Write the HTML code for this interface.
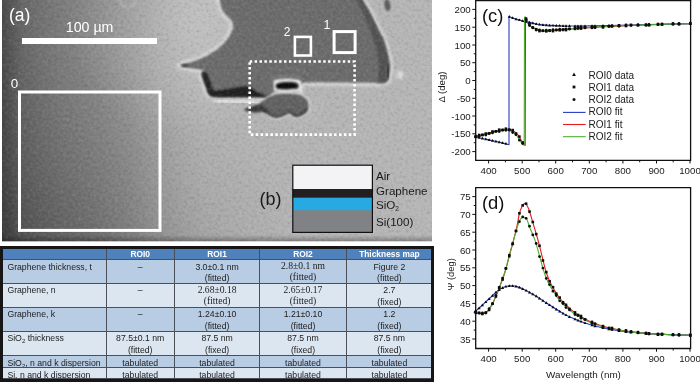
<!DOCTYPE html>
<html><head><meta charset="utf-8"><title>Figure</title>
<style>
html,body{margin:0;padding:0;background:#fff;}
body{width:700px;height:382px;position:relative;overflow:hidden;font-family:"Liberation Sans",sans-serif;}
svg{position:absolute;display:block;}
svg.micro{left:2px;top:0;}
svg.plots{left:430px;top:0;}
.tbl{position:absolute;left:0;top:246px;width:433.6px;height:136px;background:#161616;box-sizing:border-box;padding:3.2px 2.9px 0 2.8px;font-size:8.7px;color:#1c1c1c;line-height:11.6px;}
.tr{display:flex;box-sizing:border-box;border-bottom:0.9px solid #4a4f58;overflow:hidden;}
.tr>div{box-sizing:border-box;border-right:0.9px solid #4a4f58;text-align:center;padding-top:2.1px;overflow:hidden;white-space:nowrap;}
.tr>div:last-child{border-right:none;}
.c0{width:103.8px;text-align:left !important;padding-left:4.6px;}
.c1{width:68.2px;} .c2{width:85.6px;} .c3{width:86.2px;} .c4{width:84.1px;padding-left:1.6px;}
.th{height:10.6px;background:#4f81bd;color:#fff;font-weight:bold;line-height:10px;font-size:8.4px;}
.th>div{padding-top:0;}
.r1>div,.r2>div{padding-top:1.3px;} .r3>div{padding-top:1.1px;} .r4>div,.r5>div{padding-top:1.5px;}
.od{background:#b8cce4;} .ev{background:#dce6f1;}
.tr>div.s{font-family:"Liberation Serif",serif;font-size:9.6px;padding-top:0px;}
sub{font-size:6px;vertical-align:baseline;position:relative;top:1.6px;line-height:0;}
</style></head><body>
<svg class="micro" width="430" height="241.5" viewBox="2 0 430 241.5" preserveAspectRatio="none" font-family="'Liberation Sans', sans-serif">
<defs>
<linearGradient id="bg" gradientUnits="userSpaceOnUse" x1="2" x2="432" y1="0" y2="0">
<stop offset="0" stop-color="#4a4a4a"/><stop offset="0.02" stop-color="#565656"/><stop offset="0.045" stop-color="#666666"/><stop offset="0.09" stop-color="#727272"/><stop offset="0.135" stop-color="#7b7b7b"/><stop offset="0.23" stop-color="#898989"/><stop offset="0.3" stop-color="#959595"/><stop offset="0.36" stop-color="#a3a3a3"/><stop offset="0.42" stop-color="#adadad"/><stop offset="0.47" stop-color="#b2b2b2"/><stop offset="0.7" stop-color="#b4b4b4"/><stop offset="1" stop-color="#b6b6b6"/>
</linearGradient>
<radialGradient id="dk" cx="40" cy="330" r="330" gradientUnits="userSpaceOnUse">
<stop offset="0" stop-color="#000" stop-opacity="0.32"/><stop offset="0.3" stop-color="#000" stop-opacity="0.2"/><stop offset="0.47" stop-color="#000" stop-opacity="0.115"/><stop offset="0.66" stop-color="#000" stop-opacity="0.045"/><stop offset="0.85" stop-color="#000" stop-opacity="0"/>
</radialGradient>
<radialGradient id="lt" cx="185" cy="20" r="120" gradientUnits="userSpaceOnUse">
<stop offset="0" stop-color="#fff" stop-opacity="0.2"/><stop offset="0.5" stop-color="#fff" stop-opacity="0.12"/><stop offset="1" stop-color="#fff" stop-opacity="0"/>
</radialGradient>
<linearGradient id="be" x1="0" x2="0" y1="0" y2="1"><stop offset="0" stop-color="#000" stop-opacity="0"/><stop offset="1" stop-color="#000" stop-opacity="0.3"/></linearGradient>
<filter id="b1" x="-20%" y="-20%" width="140%" height="140%"><feGaussianBlur stdDeviation="0.9"/></filter>
<filter id="b2" x="-20%" y="-20%" width="140%" height="140%"><feGaussianBlur stdDeviation="1.8"/></filter>
<filter id="b3" x="-30%" y="-30%" width="160%" height="160%"><feGaussianBlur stdDeviation="3.5"/></filter>
<filter id="nz" x="0" y="0" width="100%" height="100%" color-interpolation-filters="sRGB"><feTurbulence type="fractalNoise" baseFrequency="0.33" numOctaves="3" seed="7"/><feColorMatrix type="matrix" values="1 0 0 0 0  1 0 0 0 0  1 0 0 0 0  1 0 0 0 0"/><feComponentTransfer><feFuncR type="discrete" tableValues="0 1"/><feFuncG type="discrete" tableValues="0 1"/><feFuncB type="discrete" tableValues="0 1"/><feFuncA type="table" tableValues="0.13 0 0.13"/></feComponentTransfer></filter>
<clipPath id="cp"><rect x="2" y="0" width="430" height="241.5"/></clipPath>
</defs>
<g clip-path="url(#cp)">
<rect x="2" y="0" width="430" height="241.5" fill="url(#bg)"/>
<rect x="2" y="0" width="430" height="241.5" fill="url(#dk)"/>
<rect x="2" y="235" width="430" height="6.5" fill="url(#be)"/>
<rect x="2" y="0" width="330" height="150" fill="url(#lt)"/>
<circle cx="128" cy="-1" r="8" fill="none" stroke="#c4c4c4" stroke-width="2.4" opacity="0.45" filter="url(#b1)"/>
<!-- halo around flake -->
<path d="M220.0 -12.0C197.0 -10.0 219.7 -3.6 220.0 0.0C220.3 3.6 220.8 6.9 222.0 9.6C223.2 12.3 225.4 14.1 227.0 16.0C228.6 17.9 230.7 19.3 231.7 21.0C232.7 22.7 232.9 24.3 233.0 26.0C233.1 27.7 232.9 28.9 232.0 31.0C231.1 33.1 229.5 36.3 227.8 38.6C226.1 40.9 223.9 43.1 222.0 45.0C220.1 46.9 218.5 48.4 216.3 50.0C214.1 51.6 211.6 53.1 209.0 54.5C206.4 55.9 203.6 57.5 200.9 58.6C198.2 59.8 195.6 60.6 193.0 61.4C190.4 62.2 187.6 62.9 185.4 63.6C183.2 64.3 179.5 64.9 179.6 65.6C179.7 66.3 183.8 67.1 186.0 67.6C188.2 68.1 190.7 68.3 193.0 68.6C195.3 68.9 198.2 69.2 200.0 69.6C201.8 70.0 203.8 70.3 204.0 71.0C204.2 71.7 201.2 71.5 201.5 74.0C201.8 76.5 203.8 82.3 205.5 86.0C207.2 89.7 205.8 94.2 211.5 96.0C217.2 97.8 230.9 96.6 240.0 96.8C249.1 97.0 260.7 97.5 266.0 97.0C271.3 96.5 270.2 94.4 272.0 93.5C273.8 92.6 272.7 91.8 277.0 91.5C281.3 91.2 294.2 92.4 298.0 91.5C301.8 90.6 299.2 87.4 300.0 86.0C300.8 84.6 301.3 83.6 303.0 83.0C304.7 82.4 305.5 82.5 310.0 82.4C314.5 82.3 321.7 82.5 330.0 82.6C338.3 82.7 351.7 82.7 360.0 82.8C368.3 82.9 375.8 83.3 380.0 83.2C384.2 83.1 384.1 83.2 385.5 82.4C386.9 81.6 387.7 81.4 388.4 78.6C389.1 75.8 390.0 69.9 389.8 65.5C389.6 61.1 388.3 56.8 387.2 52.4C386.1 48.0 384.6 42.6 383.3 39.3C382.0 36.0 380.6 35.4 379.3 32.8C378.0 30.2 377.1 27.3 375.4 23.6C373.6 19.9 371.0 14.4 368.8 10.5C366.6 6.6 364.1 3.8 362.3 0.0C360.5 -3.8 381.7 -10.0 358.0 -12.0C334.3 -14.0 243.0 -14.0 220.0 -12.0Z" fill="none" stroke="#dedede" stroke-width="6.5" filter="url(#b2)" opacity="0.85"/>
<path d="M264.0 100.0C266.0 98.6 267.7 97.5 270.0 96.5C272.3 95.5 274.7 94.5 278.0 94.0C281.3 93.5 286.3 93.3 290.0 93.5C293.7 93.7 297.3 94.1 300.0 95.0C302.7 95.9 304.6 97.3 306.0 99.0C307.4 100.7 308.4 102.9 308.5 105.0C308.6 107.1 307.9 109.8 306.5 111.5C305.1 113.2 302.0 114.7 300.0 115.5C298.0 116.3 296.3 117.1 294.5 116.5C292.7 115.9 291.1 112.2 289.4 112.0C287.6 111.8 286.4 114.2 284.0 115.0C281.6 115.8 277.7 117.2 275.0 117.0C272.3 116.8 270.2 114.9 268.0 113.5C265.8 112.1 263.7 109.9 262.0 108.5C260.3 107.1 257.7 106.4 258.0 105.0C258.3 103.6 262.0 101.4 264.0 100.0Z" fill="none" stroke="#dcdcdc" stroke-width="5" filter="url(#b2)" opacity="0.8"/>
<path d="M214 101 L262 102.5" stroke="#e4e4e4" stroke-width="3.2" filter="url(#b1)" fill="none"/>
<!-- flake -->
<path d="M220.0 -12.0C197.0 -10.0 219.7 -3.6 220.0 0.0C220.3 3.6 220.8 6.9 222.0 9.6C223.2 12.3 225.4 14.1 227.0 16.0C228.6 17.9 230.7 19.3 231.7 21.0C232.7 22.7 232.9 24.3 233.0 26.0C233.1 27.7 232.9 28.9 232.0 31.0C231.1 33.1 229.5 36.3 227.8 38.6C226.1 40.9 223.9 43.1 222.0 45.0C220.1 46.9 218.5 48.4 216.3 50.0C214.1 51.6 211.6 53.1 209.0 54.5C206.4 55.9 203.6 57.5 200.9 58.6C198.2 59.8 195.6 60.6 193.0 61.4C190.4 62.2 187.6 62.9 185.4 63.6C183.2 64.3 179.5 64.9 179.6 65.6C179.7 66.3 183.8 67.1 186.0 67.6C188.2 68.1 190.7 68.3 193.0 68.6C195.3 68.9 198.2 69.2 200.0 69.6C201.8 70.0 203.8 70.3 204.0 71.0C204.2 71.7 201.2 71.5 201.5 74.0C201.8 76.5 203.8 82.3 205.5 86.0C207.2 89.7 205.8 94.2 211.5 96.0C217.2 97.8 230.9 96.6 240.0 96.8C249.1 97.0 260.7 97.5 266.0 97.0C271.3 96.5 270.2 94.4 272.0 93.5C273.8 92.6 272.7 91.8 277.0 91.5C281.3 91.2 294.2 92.4 298.0 91.5C301.8 90.6 299.2 87.4 300.0 86.0C300.8 84.6 301.3 83.6 303.0 83.0C304.7 82.4 305.5 82.5 310.0 82.4C314.5 82.3 321.7 82.5 330.0 82.6C338.3 82.7 351.7 82.7 360.0 82.8C368.3 82.9 375.8 83.3 380.0 83.2C384.2 83.1 384.1 83.2 385.5 82.4C386.9 81.6 387.7 81.4 388.4 78.6C389.1 75.8 390.0 69.9 389.8 65.5C389.6 61.1 388.3 56.8 387.2 52.4C386.1 48.0 384.6 42.6 383.3 39.3C382.0 36.0 380.6 35.4 379.3 32.8C378.0 30.2 377.1 27.3 375.4 23.6C373.6 19.9 371.0 14.4 368.8 10.5C366.6 6.6 364.1 3.8 362.3 0.0C360.5 -3.8 381.7 -10.0 358.0 -12.0C334.3 -14.0 243.0 -14.0 220.0 -12.0Z" fill="#6c6c6c" filter="url(#b1)"/>
<path d="M355 -3 L361.5 10 L368 24 L373 38 L377 52 L379 66 L378 83 L386 82.4 L388.4 78.6 L389.8 65.5 L387.2 52.4 L383.3 39.3 L375.4 23.6 L368.8 10.5 L361 -3Z" fill="#4e4e4e" opacity="0.8" filter="url(#b1)"/><path d="M387.4 66 L388.6 78" stroke="#2c2c2c" stroke-width="1.8" filter="url(#b1)" fill="none"/>

<!-- dark spot top right -->
<ellipse cx="387.4" cy="5.5" rx="4" ry="7.6" fill="#d4d4d4" opacity="0.7" filter="url(#b2)"/><ellipse cx="387.4" cy="5.2" rx="3.2" ry="6.6" fill="#5c5c5c" filter="url(#b1)" transform="rotate(-6 387.4 5.2)"/>

<!-- ripples -->
<g fill="none" stroke-width="1.1" filter="url(#b1)">
<path d="M270 80 C276 73.5 298 73.5 304 80" stroke="#8c8c8c" opacity="0.7"/><path d="M266 80 C273 69 301 69 308 80" stroke="#5c5c5c" opacity="0.6"/><path d="M261 80 C270 64 304 64 313 80" stroke="#868686" opacity="0.5"/><path d="M257 80 C267 59 307 59 317 80" stroke="#606060" opacity="0.4"/>
</g>
<g fill="none" stroke="#c8c8c8" stroke-width="1.1" opacity="0.6" filter="url(#b1)">
<path d="M300 122 C312 120 318 110 316 98"/><path d="M296 128 C316 126 326 110 322 94"/>
</g>
<ellipse cx="185" cy="65.6" rx="3.4" ry="1.5" fill="#383838" opacity="0.8" filter="url(#b1)"/>
<!-- wedge -->
<path d="M201.8 72.8C201.9 71.3 205.8 72.3 206.8 73.4C207.8 74.5 209.5 80.0 210.4 82.0C211.3 84.0 211.9 89.8 214.2 90.6C216.5 91.4 226.3 89.1 230.0 88.6C233.7 88.1 242.8 85.8 246.0 86.2C249.2 86.6 254.6 90.5 257.0 91.8C259.4 93.1 268.5 96.4 266.5 97.0C264.5 97.6 246.4 97.3 240.0 97.2C233.6 97.1 215.8 97.7 211.8 96.4C207.8 95.1 207.2 88.8 206.0 86.0C204.8 83.2 201.7 74.3 201.8 72.8Z" fill="#222" filter="url(#b1)"/>
<!-- blob -->
<path d="M264.0 100.0C266.0 98.6 267.7 97.5 270.0 96.5C272.3 95.5 274.7 94.5 278.0 94.0C281.3 93.5 286.3 93.3 290.0 93.5C293.7 93.7 297.3 94.1 300.0 95.0C302.7 95.9 304.6 97.3 306.0 99.0C307.4 100.7 308.4 102.9 308.5 105.0C308.6 107.1 307.9 109.8 306.5 111.5C305.1 113.2 302.0 114.7 300.0 115.5C298.0 116.3 296.3 117.1 294.5 116.5C292.7 115.9 291.1 112.2 289.4 112.0C287.6 111.8 286.4 114.2 284.0 115.0C281.6 115.8 277.7 117.2 275.0 117.0C272.3 116.8 270.2 114.9 268.0 113.5C265.8 112.1 263.7 109.9 262.0 108.5C260.3 107.1 257.7 106.4 258.0 105.0C258.3 103.6 262.0 101.4 264.0 100.0Z" fill="#626262" filter="url(#b1)"/>
<path d="M260 106.5 C266 112 270 116 276 116.5 C282 116.5 286 113 289.4 111.5 C292 114 294 116 298 115.5 C303 114 306 111 307 108" fill="none" stroke="#3c3c3c" stroke-width="2.4" filter="url(#b1)" opacity="0.85"/>
<path d="M244.0 110.0C243.3 109.1 247.7 107.9 250.0 107.0C252.3 106.1 255.7 104.5 258.0 104.5C260.3 104.5 262.2 105.7 264.0 107.0C265.8 108.3 269.3 111.7 269.0 112.5C268.7 113.3 264.5 112.0 262.0 112.0C259.5 112.0 257.0 112.8 254.0 112.5C251.0 112.2 244.7 110.9 244.0 110.0Z" fill="#3a3a3a" filter="url(#b1)"/>
<!-- hole -->
<path d="M273.6 80.6 C280 78 294 78 300.8 80.6 L301.8 91 C294 92.8 280 92.8 274 91Z" fill="#ececec" filter="url(#b1)"/>
<path d="M276.6 83.8 C281 81.6 293 81.6 297.6 83.4 C298.8 85 298.8 87.2 297.4 88.6 C292 89.6 282 89.6 277 88.8 C275.4 87.2 275.4 85.2 276.6 83.8Z" fill="#080808" filter="url(#b1)"/>
<!-- bright speckles right of flake -->
<ellipse cx="400" cy="75" rx="4" ry="4.4" fill="#e8e8e8" opacity="0.7" filter="url(#b2)"/>

<rect x="2" y="0" width="430" height="241.5" filter="url(#nz)"/>
</g>
<!-- annotations -->
<g fill="none" stroke="#fff">
<rect x="19.5" y="92" width="140.5" height="138.4" stroke-width="3"/>
<rect x="294.9" y="36.9" width="16" height="18.6" stroke-width="2.6"/>
<rect x="334.1" y="31.6" width="21" height="21" stroke-width="3"/>
<path d="M249.7 61.5 H354.6 V134.6 H249.7 Z" stroke-width="2.6" stroke-dasharray="2.5 2.4"/>
</g>
<rect x="22" y="38" width="135" height="6" fill="#fff"/>
<g fill="#fff">
<text x="9" y="21.4" font-size="17.5">(a)</text>
<text x="89.6" y="32.4" font-size="14.2" text-anchor="middle">100 µm</text>
<text x="10.8" y="87.6" font-size="13.4">0</text>
<text x="283.8" y="36.4" font-size="12">2</text>
<text x="323.6" y="29" font-size="12.5">1</text>
</g>
<!-- layer diagram -->
<rect x="292.8" y="165.2" width="79.6" height="67.2" fill="#808285"/>
<rect x="292.8" y="165.2" width="79.6" height="24" fill="#f3f3f5"/>
<rect x="292.8" y="189" width="79.6" height="8.8" fill="#231f20"/>
<rect x="292.8" y="197.8" width="79.6" height="12.4" fill="#27aae1"/>
<rect x="292.8" y="165.2" width="79.6" height="67.2" fill="none" stroke="#111" stroke-width="1.2"/>
<g fill="#1a1a1a" font-size="11.6">
<text x="376" y="179.8">Air</text>
<text x="376" y="194.6">Graphene</text>
<text x="376" y="208.6">SiO<tspan font-size="6.5" dy="2.6">2</tspan></text>
<text x="376" y="225.8">Si(100)</text>
</g>
<text x="259.6" y="205.2" font-size="18" fill="#1a1a1a">(b)</text>
</svg>
<div class="tbl"><div class="tr th"><div class="c0"></div><div class="c1">ROI0</div><div class="c2">ROI1</div><div class="c3">ROI2</div><div class="c4">Thickness map</div></div><div class="tr od r0" style="height:24.1px"><div class="c0">Graphene thickness, t</div><div class="c1">–</div><div class="c2">3.0±0.1 nm<br>(fitted)</div><div class="c3 s">2.8±0.1 nm<br>(fitted)</div><div class="c4">Figure 2<br>(fitted)</div></div><div class="tr ev r1" style="height:24.2px"><div class="c0">Graphene, n</div><div class="c1">–</div><div class="c2 s">2.68±0.18<br>(fitted)</div><div class="c3 s">2.65±0.17<br>(fitted)</div><div class="c4">2.7<br>(fixed)</div></div><div class="tr od r2" style="height:24.2px"><div class="c0">Graphene, k</div><div class="c1">–</div><div class="c2">1.24±0.10<br>(fitted)</div><div class="c3">1.21±0.10<br>(fitted)</div><div class="c4">1.2<br>(fixed)</div></div><div class="tr ev r3" style="height:24.2px"><div class="c0">SiO<sub>2</sub> thickness</div><div class="c1">87.5±0.1 nm<br>(fitted)</div><div class="c2">87.5 nm<br>(fixed)</div><div class="c3">87.5 nm<br>(fixed)</div><div class="c4">87.5 nm<br>(fixed)</div></div><div class="tr od r4" style="height:12.0px"><div class="c0">SiO<sub>2</sub>, n and k dispersion</div><div class="c1">tabulated</div><div class="c2">tabulated</div><div class="c3">tabulated</div><div class="c4">tabulated</div></div><div class="tr ev r5" style="height:10.6px"><div class="c0">Si, n and k dispersion</div><div class="c1">tabulated</div><div class="c2">tabulated</div><div class="c3">tabulated</div><div class="c4">tabulated</div></div></div>
<svg class="plots" width="270" height="382" viewBox="430 0 270 382" font-family="'Liberation Sans', sans-serif">
<g stroke="#111" stroke-width="1.3" fill="none"><path d="M475.7 0.6 V160.3 H690.6 V0.6"/><path d="M475.1 0.6 H691.2"/></g><g stroke="#111" stroke-width="1" fill="none"><path d="M475.7 151.6h-3.4"/><path d="M475.7 133.8h-3.4"/><path d="M475.7 116.0h-3.4"/><path d="M475.7 98.3h-3.4"/><path d="M475.7 80.5h-3.4"/><path d="M475.7 62.7h-3.4"/><path d="M475.7 45.0h-3.4"/><path d="M475.7 27.2h-3.4"/><path d="M475.7 9.4h-3.4"/><path d="M475.7 142.7h-2"/><path d="M475.7 124.9h-2"/><path d="M475.7 107.2h-2"/><path d="M475.7 89.4h-2"/><path d="M475.7 71.6h-2"/><path d="M475.7 53.8h-2"/><path d="M475.7 36.1h-2"/><path d="M475.7 18.3h-2"/><path d="M488.6 160.3v3.2"/><path d="M522.2 160.3v3.2"/><path d="M555.7 160.3v3.2"/><path d="M589.3 160.3v3.2"/><path d="M622.9 160.3v3.2"/><path d="M656.5 160.3v3.2"/><path d="M690.0 160.3v3.2"/><path d="M505.4 160.3v2"/><path d="M539.0 160.3v2"/><path d="M572.5 160.3v2"/><path d="M606.1 160.3v2"/><path d="M639.7 160.3v2"/><path d="M673.2 160.3v2"/></g><g font-size="9.7" fill="#1a1a1a" text-anchor="end"><text x="470.7" y="155.1">-200</text><text x="470.7" y="137.3">-150</text><text x="470.7" y="119.5">-100</text><text x="470.7" y="101.8">-50</text><text x="470.7" y="84.0">0</text><text x="470.7" y="66.2">50</text><text x="470.7" y="48.5">100</text><text x="470.7" y="30.7">150</text><text x="470.7" y="12.9">200</text></g><g font-size="9.7" fill="#1a1a1a" text-anchor="middle"><text x="488.6" y="173.9">400</text><text x="522.2" y="173.9">500</text><text x="555.7" y="173.9">600</text><text x="589.3" y="173.9">700</text><text x="622.9" y="173.9">800</text><text x="656.5" y="173.9">900</text><text x="690.0" y="173.9">1000</text></g>
<g fill="none" stroke-width="1.1" stroke-linejoin="round"><path stroke="#e8181c" d="M475.7 136.4C477.2 136.0 481.8 134.8 485.0 134.0C488.2 133.2 492.0 132.0 495.0 131.3C498.0 130.6 500.8 129.9 503.0 129.6C505.2 129.2 506.3 129.0 508.0 129.2C509.7 129.3 511.3 129.5 513.0 130.5C514.7 131.5 516.6 133.3 518.0 135.0C519.4 136.7 520.2 138.8 521.4 140.5C522.6 142.2 524.6 144.6 525.2 145.4 L525.5 17 L525.5 17.0C525.8 17.7 526.7 19.7 527.4 21.0C528.1 22.3 528.7 23.9 529.6 25.0C530.5 26.1 531.8 26.8 533.0 27.6C534.2 28.4 535.7 29.3 537.0 29.8C538.3 30.3 539.7 30.6 541.0 30.8C542.3 31.0 543.2 31.1 545.0 31.1C546.8 31.1 549.5 31.0 552.0 30.8C554.5 30.6 556.2 30.4 560.0 30.0C563.8 29.6 570.0 29.1 575.0 28.7C580.0 28.3 584.2 28.0 590.0 27.6C595.8 27.2 601.7 26.8 610.0 26.4C618.3 26.0 630.8 25.4 640.0 25.0C649.2 24.6 656.6 24.4 665.0 24.2C673.4 24.0 686.3 23.7 690.6 23.6"/><path stroke="#2a3cc0" d="M475.7 137.0C477.2 137.3 481.8 138.3 485.0 139.0C488.2 139.7 492.0 140.5 495.0 141.2C498.0 141.9 500.7 142.4 503.0 143.0C505.3 143.6 508.0 144.3 509.0 144.6 L509 16.6 L509.0 16.6C510.3 17.1 514.3 18.6 517.0 19.4C519.7 20.2 522.2 20.7 525.0 21.4C527.8 22.1 530.8 22.8 534.0 23.4C537.2 24.0 539.8 24.5 544.0 24.9C548.2 25.3 553.8 25.5 559.0 25.7C564.2 25.9 569.8 26.0 575.0 26.0C580.2 26.0 582.5 26.0 590.0 25.9C597.5 25.8 610.0 25.5 620.0 25.3C630.0 25.1 638.2 24.9 650.0 24.6C661.8 24.3 683.8 23.8 690.6 23.6"/><path stroke="#4cae2e" d="M475.7 136.8C477.2 136.4 481.8 135.4 485.0 134.6C488.2 133.8 492.0 132.7 495.0 132.0C498.0 131.3 501.0 130.7 503.0 130.4C505.0 130.1 505.5 130.0 507.0 130.2C508.5 130.4 510.3 130.5 512.0 131.5C513.7 132.5 515.6 134.3 517.0 136.0C518.4 137.7 519.2 139.9 520.4 141.5C521.6 143.1 523.6 144.8 524.2 145.4 L524.5 17 L524.5 17.0C524.8 17.7 525.7 19.7 526.4 21.0C527.1 22.3 527.7 23.6 528.6 24.6C529.5 25.6 530.8 26.4 532.0 27.2C533.2 28.0 534.7 28.8 536.0 29.3C537.3 29.8 538.5 30.1 540.0 30.3C541.5 30.5 543.0 30.6 545.0 30.6C547.0 30.6 549.5 30.5 552.0 30.3C554.5 30.1 556.2 29.9 560.0 29.6C563.8 29.3 570.0 28.8 575.0 28.4C580.0 28.0 584.2 27.8 590.0 27.4C595.8 27.0 601.7 26.7 610.0 26.3C618.3 25.9 630.8 25.4 640.0 25.0C649.2 24.6 656.6 24.4 665.0 24.2C673.4 24.0 686.3 23.7 690.6 23.6"/></g><g fill="#0c0c0c"><path d="M475.7 135.4 l1.6 2.7 h-3.2z"/><path d="M479.1 136.1 l1.6 2.7 h-3.2z"/><path d="M482.4 136.8 l1.6 2.7 h-3.2z"/><path d="M485.8 137.6 l1.6 2.7 h-3.2z"/><path d="M489.1 138.3 l1.6 2.7 h-3.2z"/><path d="M492.5 139.0 l1.6 2.7 h-3.2z"/><path d="M495.9 139.8 l1.6 2.7 h-3.2z"/><path d="M499.2 140.5 l1.6 2.7 h-3.2z"/><path d="M502.6 141.3 l1.6 2.7 h-3.2z"/><path d="M505.9 142.1 l1.6 2.7 h-3.2z"/><path d="M509.3 15.1 l1.6 2.7 h-3.2z"/><path d="M512.7 16.3 l1.6 2.7 h-3.2z"/><path d="M516.0 17.5 l1.6 2.7 h-3.2z"/><path d="M519.4 18.4 l1.6 2.7 h-3.2z"/><path d="M522.7 19.3 l1.6 2.7 h-3.2z"/><path d="M526.1 20.0 l1.6 2.7 h-3.2z"/><path d="M529.5 20.8 l1.6 2.7 h-3.2z"/><path d="M532.8 21.6 l1.6 2.7 h-3.2z"/><path d="M536.2 22.2 l1.6 2.7 h-3.2z"/><path d="M539.5 22.8 l1.6 2.7 h-3.2z"/><path d="M542.9 23.2 l1.6 2.7 h-3.2z"/><path d="M546.3 23.5 l1.6 2.7 h-3.2z"/><path d="M549.6 23.7 l1.6 2.7 h-3.2z"/><path d="M553.0 23.9 l1.6 2.7 h-3.2z"/><path d="M556.3 24.0 l1.6 2.7 h-3.2z"/><path d="M559.7 24.1 l1.6 2.7 h-3.2z"/><path d="M563.0 24.2 l1.6 2.7 h-3.2z"/><path d="M566.0 24.3 l1.6 2.7 h-3.2z"/><path d="M569.5 24.3 l1.6 2.7 h-3.2z"/><path d="M575.0 24.4 l1.6 2.7 h-3.2z"/><path d="M578.0 24.4 l1.6 2.7 h-3.2z"/><path d="M581.0 24.4 l1.6 2.7 h-3.2z"/><path d="M585.0 24.4 l1.6 2.7 h-3.2z"/><path d="M592.0 24.3 l1.6 2.7 h-3.2z"/><path d="M595.0 24.2 l1.6 2.7 h-3.2z"/><path d="M603.0 24.0 l1.6 2.7 h-3.2z"/><path d="M609.0 23.9 l1.6 2.7 h-3.2z"/><path d="M612.0 23.9 l1.6 2.7 h-3.2z"/><path d="M619.0 23.7 l1.6 2.7 h-3.2z"/><path d="M626.0 23.6 l1.6 2.7 h-3.2z"/><path d="M631.0 23.4 l1.6 2.7 h-3.2z"/><path d="M638.0 23.3 l1.6 2.7 h-3.2z"/><path d="M646.0 23.1 l1.6 2.7 h-3.2z"/><path d="M649.0 23.0 l1.6 2.7 h-3.2z"/><path d="M658.0 22.8 l1.6 2.7 h-3.2z"/><path d="M662.0 22.7 l1.6 2.7 h-3.2z"/><path d="M673.0 22.4 l1.6 2.7 h-3.2z"/><path d="M679.0 22.3 l1.6 2.7 h-3.2z"/><path d="M690.3 22.0 l1.6 2.7 h-3.2z"/><rect x="474.4" y="135.5" width="2.6" height="2.6"/><rect x="477.8" y="133.7" width="2.6" height="2.6"/><rect x="481.1" y="133.7" width="2.6" height="2.6"/><rect x="484.5" y="132.3" width="2.6" height="2.6"/><rect x="487.8" y="132.2" width="2.6" height="2.6"/><rect x="491.2" y="130.2" width="2.6" height="2.6"/><rect x="494.6" y="130.0" width="2.6" height="2.6"/><rect x="497.9" y="128.4" width="2.6" height="2.6"/><rect x="501.3" y="128.8" width="2.6" height="2.6"/><rect x="504.6" y="127.4" width="2.6" height="2.6"/><rect x="508.0" y="128.3" width="2.6" height="2.6"/><rect x="511.4" y="128.8" width="2.6" height="2.6"/><rect x="514.7" y="132.2" width="2.6" height="2.6"/><rect x="518.1" y="135.3" width="2.6" height="2.6"/><rect x="521.4" y="141.2" width="2.6" height="2.6"/><rect x="524.8" y="17.4" width="2.6" height="2.6"/><rect x="528.2" y="23.0" width="2.6" height="2.6"/><rect x="531.5" y="26.5" width="2.6" height="2.6"/><rect x="534.9" y="27.9" width="2.6" height="2.6"/><rect x="538.2" y="29.8" width="2.6" height="2.6"/><rect x="541.6" y="29.3" width="2.6" height="2.6"/><rect x="545.0" y="30.0" width="2.6" height="2.6"/><rect x="548.3" y="29.1" width="2.6" height="2.6"/><rect x="551.7" y="29.8" width="2.6" height="2.6"/><rect x="555.0" y="28.6" width="2.6" height="2.6"/><rect x="558.4" y="29.0" width="2.6" height="2.6"/><rect x="561.7" y="28.2" width="2.6" height="2.6"/><rect x="564.7" y="28.8" width="2.6" height="2.6"/><rect x="568.2" y="27.5" width="2.6" height="2.6"/><rect x="573.7" y="27.6" width="2.6" height="2.6"/><rect x="576.7" y="26.6" width="2.6" height="2.6"/><rect x="579.7" y="27.3" width="2.6" height="2.6"/><rect x="583.7" y="26.1" width="2.6" height="2.6"/><rect x="590.7" y="26.5" width="2.6" height="2.6"/><rect x="593.7" y="25.8" width="2.6" height="2.6"/><rect x="601.7" y="26.1" width="2.6" height="2.6"/><rect x="607.7" y="24.8" width="2.6" height="2.6"/><rect x="610.7" y="25.2" width="2.6" height="2.6"/><rect x="617.7" y="24.0" width="2.6" height="2.6"/><rect x="624.7" y="24.7" width="2.6" height="2.6"/><rect x="629.7" y="23.6" width="2.6" height="2.6"/><rect x="636.7" y="24.1" width="2.6" height="2.6"/><rect x="644.7" y="23.3" width="2.6" height="2.6"/><rect x="647.7" y="24.0" width="2.6" height="2.6"/><rect x="656.7" y="22.7" width="2.6" height="2.6"/><rect x="660.7" y="23.2" width="2.6" height="2.6"/><rect x="671.7" y="22.1" width="2.6" height="2.6"/><rect x="677.7" y="23.0" width="2.6" height="2.6"/><rect x="689.0" y="21.8" width="2.6" height="2.6"/><circle cx="475.7" cy="136.2" r="1.4"/><circle cx="479.1" cy="136.2" r="1.4"/><circle cx="482.4" cy="134.8" r="1.4"/><circle cx="485.8" cy="135.0" r="1.4"/><circle cx="489.1" cy="133.3" r="1.4"/><circle cx="492.5" cy="132.9" r="1.4"/><circle cx="495.9" cy="131.3" r="1.4"/><circle cx="499.2" cy="131.5" r="1.4"/><circle cx="502.6" cy="129.9" r="1.4"/><circle cx="505.9" cy="130.3" r="1.4"/><circle cx="509.3" cy="130.1" r="1.4"/><circle cx="512.7" cy="132.5" r="1.4"/><circle cx="516.0" cy="134.7" r="1.4"/><circle cx="519.4" cy="140.2" r="1.4"/><circle cx="522.7" cy="143.5" r="1.4"/><circle cx="526.1" cy="19.8" r="1.4"/><circle cx="529.5" cy="25.6" r="1.4"/><circle cx="532.8" cy="27.3" r="1.4"/><circle cx="536.2" cy="30.0" r="1.4"/><circle cx="539.5" cy="30.0" r="1.4"/><circle cx="542.9" cy="30.9" r="1.4"/><circle cx="546.3" cy="30.1" r="1.4"/><circle cx="549.6" cy="30.8" r="1.4"/><circle cx="553.0" cy="29.6" r="1.4"/><circle cx="556.3" cy="30.1" r="1.4"/><circle cx="559.7" cy="29.2" r="1.4"/><circle cx="563.0" cy="30.0" r="1.4"/><circle cx="566.0" cy="28.9" r="1.4"/><circle cx="569.5" cy="29.1" r="1.4"/><circle cx="575.0" cy="27.9" r="1.4"/><circle cx="578.0" cy="28.6" r="1.4"/><circle cx="581.0" cy="27.4" r="1.4"/><circle cx="585.0" cy="27.9" r="1.4"/><circle cx="592.0" cy="26.9" r="1.4"/><circle cx="595.0" cy="27.7" r="1.4"/><circle cx="603.0" cy="26.5" r="1.4"/><circle cx="609.0" cy="26.6" r="1.4"/><circle cx="612.0" cy="25.7" r="1.4"/><circle cx="619.0" cy="26.3" r="1.4"/><circle cx="626.0" cy="25.0" r="1.4"/><circle cx="631.0" cy="25.6" r="1.4"/><circle cx="638.0" cy="24.7" r="1.4"/><circle cx="646.0" cy="25.4" r="1.4"/><circle cx="649.0" cy="24.5" r="1.4"/><circle cx="658.0" cy="24.7" r="1.4"/><circle cx="662.0" cy="23.8" r="1.4"/><circle cx="673.0" cy="24.4" r="1.4"/><circle cx="679.0" cy="23.3" r="1.4"/><circle cx="690.3" cy="23.8" r="1.4"/></g>
<g font-size="10" fill="#1a1a1a"><text x="588.6" y="78.6">ROI0 data</text><text x="588.6" y="90.8">ROI1 data</text><text x="588.6" y="103.1">ROI2 data</text><text x="588.6" y="115.3">ROI0 fit</text><text x="588.6" y="127.6">ROI1 fit</text><text x="588.6" y="139.8">ROI2 fit</text></g><path fill="#111" d="M574 72.6l1.9 3.4h-3.8z"/><rect fill="#111" x="572.6" y="85.6" width="2.8" height="2.8"/><circle fill="#111" cx="574" cy="99.4" r="1.5"/><g stroke-width="1.1"><path stroke="#2a3cc0" d="M563 112.4h22.6"/><path stroke="#e8181c" d="M563 124.5h22.6"/><path stroke="#4cae2e" d="M563 136.7h22.6"/></g>
<text x="482" y="22.4" font-size="18.4" fill="#111">(c)</text>
<text transform="translate(445.2 87) rotate(-90)" font-size="9.6" text-anchor="middle" fill="#1a1a1a">Δ (deg)</text>
<g stroke="#111" stroke-width="1.3" fill="none"><path d="M475.7 187.7 V348.5 H690.6 V187.7"/><path d="M475.1 187.7 H691.2"/></g><g stroke="#111" stroke-width="1" fill="none"><path d="M475.7 339.0h-3.4"/><path d="M475.7 321.2h-3.4"/><path d="M475.7 303.4h-3.4"/><path d="M475.7 285.6h-3.4"/><path d="M475.7 267.8h-3.4"/><path d="M475.7 250.0h-3.4"/><path d="M475.7 232.2h-3.4"/><path d="M475.7 214.4h-3.4"/><path d="M475.7 196.6h-3.4"/><path d="M475.7 330.1h-2"/><path d="M475.7 312.3h-2"/><path d="M475.7 294.5h-2"/><path d="M475.7 276.7h-2"/><path d="M475.7 258.9h-2"/><path d="M475.7 241.1h-2"/><path d="M475.7 223.3h-2"/><path d="M475.7 205.5h-2"/><path d="M488.6 348.5v3.2"/><path d="M522.2 348.5v3.2"/><path d="M555.7 348.5v3.2"/><path d="M589.3 348.5v3.2"/><path d="M622.9 348.5v3.2"/><path d="M656.5 348.5v3.2"/><path d="M690.0 348.5v3.2"/><path d="M505.4 348.5v2"/><path d="M539.0 348.5v2"/><path d="M572.5 348.5v2"/><path d="M606.1 348.5v2"/><path d="M639.7 348.5v2"/><path d="M673.2 348.5v2"/></g><g font-size="9.7" fill="#1a1a1a" text-anchor="end"><text x="470.7" y="342.5">35</text><text x="470.7" y="324.7">40</text><text x="470.7" y="306.9">45</text><text x="470.7" y="289.1">50</text><text x="470.7" y="271.3">55</text><text x="470.7" y="253.5">60</text><text x="470.7" y="235.7">65</text><text x="470.7" y="217.9">70</text><text x="470.7" y="200.1">75</text></g><g font-size="9.7" fill="#1a1a1a" text-anchor="middle"><text x="488.6" y="362.1">400</text><text x="522.2" y="362.1">500</text><text x="555.7" y="362.1">600</text><text x="589.3" y="362.1">700</text><text x="622.9" y="362.1">800</text><text x="656.5" y="362.1">900</text><text x="690.0" y="362.1">1000</text></g>
<g fill="none" stroke-width="1.1" stroke-linejoin="round"><path stroke="#e8181c" d="M475.7 312.4C476.2 312.5 477.8 313.1 479.0 313.3C480.2 313.5 481.7 313.8 483.0 313.6C484.3 313.4 485.8 312.9 487.0 312.0C488.2 311.1 489.0 309.5 490.0 308.0C491.0 306.5 492.0 305.0 493.0 303.0C494.0 301.0 494.8 298.8 496.0 296.0C497.2 293.2 498.5 290.0 500.0 286.0C501.5 282.0 503.5 276.8 505.0 272.0C506.5 267.2 507.7 261.9 509.0 257.0C510.3 252.1 511.7 247.6 513.0 242.4C514.3 237.2 516.0 230.7 517.0 226.0C518.0 221.3 518.5 217.2 519.3 214.0C520.1 210.8 521.1 208.2 522.0 206.5C522.9 204.8 523.8 203.8 524.6 203.6C525.4 203.4 526.2 204.3 527.0 205.5C527.8 206.7 528.5 208.3 529.4 211.0C530.3 213.7 531.0 216.2 532.5 221.4C534.0 226.6 536.4 234.3 538.6 242.4C540.8 250.5 543.6 263.4 545.5 270.0C547.4 276.6 548.5 278.7 550.0 282.0C551.5 285.3 552.6 287.2 554.3 290.0C556.0 292.8 558.0 296.0 560.0 298.5C562.0 301.0 564.0 303.0 566.0 305.0C568.0 307.0 570.0 308.9 572.0 310.5C574.0 312.1 575.0 313.0 578.0 314.8C581.0 316.6 586.3 319.8 590.0 321.5C593.7 323.2 596.7 324.2 600.0 325.3C603.3 326.4 605.0 326.9 610.0 328.0C615.0 329.1 623.3 330.7 630.0 331.6C636.7 332.5 643.3 333.1 650.0 333.6C656.7 334.1 663.2 334.4 670.0 334.7C676.8 335.0 687.2 335.1 690.6 335.2"/><path stroke="#2a3cc0" d="M475.7 311.0C476.8 310.1 479.6 307.7 482.0 305.5C484.4 303.3 487.5 300.3 490.0 298.0C492.5 295.7 494.8 293.2 497.0 291.5C499.2 289.8 501.2 288.5 503.0 287.6C504.8 286.7 506.5 286.3 508.0 286.0C509.5 285.7 510.5 285.7 512.0 285.8C513.5 285.9 515.0 286.0 517.0 286.6C519.0 287.2 521.0 287.9 524.0 289.4C527.0 290.9 531.0 293.1 535.0 295.5C539.0 297.9 543.8 301.3 548.0 304.0C552.2 306.7 556.3 309.3 560.0 311.5C563.7 313.7 565.8 315.1 570.0 317.0C574.2 318.9 580.0 321.3 585.0 323.0C590.0 324.7 594.2 326.0 600.0 327.3C605.8 328.6 612.5 330.0 620.0 331.0C627.5 332.0 636.7 332.8 645.0 333.4C653.3 334.0 662.4 334.3 670.0 334.6C677.6 334.9 687.2 335.1 690.6 335.2"/><path stroke="#4cae2e" d="M475.7 312.2C476.2 312.3 477.8 312.8 479.0 313.0C480.2 313.2 481.7 313.4 483.0 313.2C484.3 313.0 485.8 312.5 487.0 311.6C488.2 310.7 489.0 309.1 490.0 307.6C491.0 306.1 492.0 304.6 493.0 302.6C494.0 300.6 494.8 298.4 496.0 295.6C497.2 292.8 498.5 289.6 500.0 285.6C501.5 281.6 503.5 276.4 505.0 271.6C506.5 266.8 507.7 261.5 509.0 256.6C510.3 251.7 511.7 247.2 513.0 242.4C514.3 237.6 515.8 231.7 517.0 228.0C518.2 224.3 519.2 221.7 520.0 220.0C520.8 218.3 521.3 218.3 522.0 217.8C522.7 217.3 523.4 217.1 524.1 217.2C524.9 217.3 525.5 216.8 526.5 218.5C527.5 220.2 528.3 223.7 529.8 227.7C531.3 231.7 533.4 235.3 535.7 242.4C538.0 249.5 541.4 263.4 543.4 270.0C545.4 276.6 546.5 278.7 548.0 282.0C549.5 285.3 550.8 287.2 552.5 290.0C554.2 292.8 556.1 296.0 558.0 298.5C559.9 301.0 562.0 303.0 564.0 305.0C566.0 307.0 568.0 308.9 570.0 310.5C572.0 312.1 573.0 313.0 576.0 314.8C579.0 316.6 584.3 319.8 588.0 321.5C591.7 323.2 594.7 324.2 598.0 325.3C601.3 326.4 603.0 326.9 608.0 328.0C613.0 329.1 621.0 330.7 628.0 331.6C635.0 332.5 643.0 333.1 650.0 333.6C657.0 334.1 663.2 334.4 670.0 334.7C676.8 335.0 687.2 335.1 690.6 335.2"/></g><g fill="#0c0c0c"><path d="M475.7 309.4 l1.6 2.7 h-3.2z"/><path d="M479.1 306.5 l1.6 2.7 h-3.2z"/><path d="M482.4 303.5 l1.6 2.7 h-3.2z"/><path d="M485.8 300.4 l1.6 2.7 h-3.2z"/><path d="M489.1 297.2 l1.6 2.7 h-3.2z"/><path d="M492.5 294.0 l1.6 2.7 h-3.2z"/><path d="M495.9 290.8 l1.6 2.7 h-3.2z"/><path d="M499.2 288.2 l1.6 2.7 h-3.2z"/><path d="M502.6 286.2 l1.6 2.7 h-3.2z"/><path d="M505.9 284.9 l1.6 2.7 h-3.2z"/><path d="M509.3 284.2 l1.6 2.7 h-3.2z"/><path d="M512.7 284.2 l1.6 2.7 h-3.2z"/><path d="M516.0 284.7 l1.6 2.7 h-3.2z"/><path d="M519.4 285.8 l1.6 2.7 h-3.2z"/><path d="M522.7 287.2 l1.6 2.7 h-3.2z"/><path d="M526.1 288.9 l1.6 2.7 h-3.2z"/><path d="M529.5 290.7 l1.6 2.7 h-3.2z"/><path d="M532.8 292.6 l1.6 2.7 h-3.2z"/><path d="M536.2 294.6 l1.6 2.7 h-3.2z"/><path d="M539.5 296.8 l1.6 2.7 h-3.2z"/><path d="M542.9 299.0 l1.6 2.7 h-3.2z"/><path d="M546.3 301.3 l1.6 2.7 h-3.2z"/><path d="M549.6 303.4 l1.6 2.7 h-3.2z"/><path d="M553.0 305.6 l1.6 2.7 h-3.2z"/><path d="M556.3 307.7 l1.6 2.7 h-3.2z"/><path d="M559.7 309.7 l1.6 2.7 h-3.2z"/><path d="M563.0 311.7 l1.6 2.7 h-3.2z"/><path d="M566.0 313.4 l1.6 2.7 h-3.2z"/><path d="M569.5 315.2 l1.6 2.7 h-3.2z"/><path d="M575.0 317.6 l1.6 2.7 h-3.2z"/><path d="M578.0 318.8 l1.6 2.7 h-3.2z"/><path d="M581.0 319.9 l1.6 2.7 h-3.2z"/><path d="M585.0 321.4 l1.6 2.7 h-3.2z"/><path d="M592.0 323.6 l1.6 2.7 h-3.2z"/><path d="M595.0 324.5 l1.6 2.7 h-3.2z"/><path d="M603.0 326.4 l1.6 2.7 h-3.2z"/><path d="M609.0 327.6 l1.6 2.7 h-3.2z"/><path d="M612.0 328.1 l1.6 2.7 h-3.2z"/><path d="M619.0 329.2 l1.6 2.7 h-3.2z"/><path d="M626.0 330.1 l1.6 2.7 h-3.2z"/><path d="M631.0 330.6 l1.6 2.7 h-3.2z"/><path d="M638.0 331.3 l1.6 2.7 h-3.2z"/><path d="M646.0 331.9 l1.6 2.7 h-3.2z"/><path d="M649.0 332.1 l1.6 2.7 h-3.2z"/><path d="M658.0 332.5 l1.6 2.7 h-3.2z"/><path d="M662.0 332.7 l1.6 2.7 h-3.2z"/><path d="M673.0 333.1 l1.6 2.7 h-3.2z"/><path d="M679.0 333.3 l1.6 2.7 h-3.2z"/><path d="M690.3 333.6 l1.6 2.7 h-3.2z"/><rect x="474.4" y="311.5" width="2.6" height="2.6"/><rect x="477.8" y="311.5" width="2.6" height="2.6"/><rect x="481.1" y="312.7" width="2.6" height="2.6"/><rect x="484.5" y="311.3" width="2.6" height="2.6"/><rect x="487.8" y="308.6" width="2.6" height="2.6"/><rect x="491.2" y="302.3" width="2.6" height="2.6"/><rect x="494.6" y="295.2" width="2.6" height="2.6"/><rect x="497.9" y="286.1" width="2.6" height="2.6"/><rect x="501.3" y="278.2" width="2.6" height="2.6"/><rect x="504.6" y="267.0" width="2.6" height="2.6"/><rect x="508.0" y="254.9" width="2.6" height="2.6"/><rect x="511.4" y="242.2" width="2.6" height="2.6"/><rect x="514.7" y="229.6" width="2.6" height="2.6"/><rect x="518.1" y="212.0" width="2.6" height="2.6"/><rect x="521.4" y="204.1" width="2.6" height="2.6"/><rect x="524.8" y="202.4" width="2.6" height="2.6"/><rect x="528.2" y="210.3" width="2.6" height="2.6"/><rect x="531.5" y="220.7" width="2.6" height="2.6"/><rect x="534.9" y="232.8" width="2.6" height="2.6"/><rect x="538.2" y="244.5" width="2.6" height="2.6"/><rect x="541.6" y="259.2" width="2.6" height="2.6"/><rect x="545.0" y="270.8" width="2.6" height="2.6"/><rect x="548.3" y="280.0" width="2.6" height="2.6"/><rect x="551.7" y="285.9" width="2.6" height="2.6"/><rect x="555.0" y="292.4" width="2.6" height="2.6"/><rect x="558.4" y="296.3" width="2.6" height="2.6"/><rect x="561.7" y="301.0" width="2.6" height="2.6"/><rect x="564.7" y="303.5" width="2.6" height="2.6"/><rect x="568.2" y="307.6" width="2.6" height="2.6"/><rect x="573.7" y="311.1" width="2.6" height="2.6"/><rect x="576.7" y="313.7" width="2.6" height="2.6"/><rect x="579.7" y="314.7" width="2.6" height="2.6"/><rect x="583.7" y="318.0" width="2.6" height="2.6"/><rect x="590.7" y="320.6" width="2.6" height="2.6"/><rect x="593.7" y="322.6" width="2.6" height="2.6"/><rect x="601.7" y="324.8" width="2.6" height="2.6"/><rect x="607.7" y="327.1" width="2.6" height="2.6"/><rect x="610.7" y="326.7" width="2.6" height="2.6"/><rect x="617.7" y="328.7" width="2.6" height="2.6"/><rect x="624.7" y="329.1" width="2.6" height="2.6"/><rect x="629.7" y="330.8" width="2.6" height="2.6"/><rect x="636.7" y="330.8" width="2.6" height="2.6"/><rect x="644.7" y="332.3" width="2.6" height="2.6"/><rect x="647.7" y="332.0" width="2.6" height="2.6"/><rect x="656.7" y="333.4" width="2.6" height="2.6"/><rect x="660.7" y="332.6" width="2.6" height="2.6"/><rect x="671.7" y="333.7" width="2.6" height="2.6"/><rect x="677.7" y="333.1" width="2.6" height="2.6"/><rect x="689.0" y="334.3" width="2.6" height="2.6"/><circle cx="475.7" cy="311.6" r="1.4"/><circle cx="479.1" cy="313.2" r="1.4"/><circle cx="482.4" cy="312.9" r="1.4"/><circle cx="485.8" cy="313.0" r="1.4"/><circle cx="489.1" cy="308.7" r="1.4"/><circle cx="492.5" cy="303.9" r="1.4"/><circle cx="495.9" cy="295.4" r="1.4"/><circle cx="499.2" cy="288.0" r="1.4"/><circle cx="502.6" cy="278.1" r="1.4"/><circle cx="505.9" cy="268.6" r="1.4"/><circle cx="509.3" cy="255.1" r="1.4"/><circle cx="512.7" cy="244.2" r="1.4"/><circle cx="516.0" cy="231.1" r="1.4"/><circle cx="519.4" cy="221.7" r="1.4"/><circle cx="522.7" cy="216.9" r="1.4"/><circle cx="526.1" cy="218.3" r="1.4"/><circle cx="529.5" cy="226.2" r="1.4"/><circle cx="532.8" cy="234.9" r="1.4"/><circle cx="536.2" cy="243.5" r="1.4"/><circle cx="539.5" cy="256.6" r="1.4"/><circle cx="542.9" cy="268.1" r="1.4"/><circle cx="546.3" cy="278.4" r="1.4"/><circle cx="549.6" cy="284.7" r="1.4"/><circle cx="553.0" cy="291.2" r="1.4"/><circle cx="556.3" cy="295.6" r="1.4"/><circle cx="559.7" cy="300.8" r="1.4"/><circle cx="563.0" cy="303.6" r="1.4"/><circle cx="566.0" cy="307.6" r="1.4"/><circle cx="569.5" cy="309.9" r="1.4"/><circle cx="575.0" cy="314.5" r="1.4"/><circle cx="578.0" cy="315.5" r="1.4"/><circle cx="581.0" cy="318.2" r="1.4"/><circle cx="585.0" cy="319.4" r="1.4"/><circle cx="592.0" cy="323.4" r="1.4"/><circle cx="595.0" cy="323.9" r="1.4"/><circle cx="603.0" cy="327.4" r="1.4"/><circle cx="609.0" cy="328.0" r="1.4"/><circle cx="612.0" cy="329.1" r="1.4"/><circle cx="619.0" cy="329.7" r="1.4"/><circle cx="626.0" cy="331.7" r="1.4"/><circle cx="631.0" cy="331.4" r="1.4"/><circle cx="638.0" cy="332.9" r="1.4"/><circle cx="646.0" cy="332.9" r="1.4"/><circle cx="649.0" cy="334.1" r="1.4"/><circle cx="658.0" cy="333.9" r="1.4"/><circle cx="662.0" cy="334.6" r="1.4"/><circle cx="673.0" cy="334.3" r="1.4"/><circle cx="679.0" cy="335.4" r="1.4"/><circle cx="690.3" cy="334.6" r="1.4"/></g>
<text x="482" y="209.2" font-size="18.4" fill="#111">(d)</text>
<text transform="translate(453.8 274.4) rotate(-90)" font-size="9.4" text-anchor="middle" fill="#1a1a1a">Ψ (deg)</text>
<text x="583.5" y="377.6" font-size="9.9" text-anchor="middle" fill="#1a1a1a">Wavelength (nm)</text>
</svg>
</body></html>
